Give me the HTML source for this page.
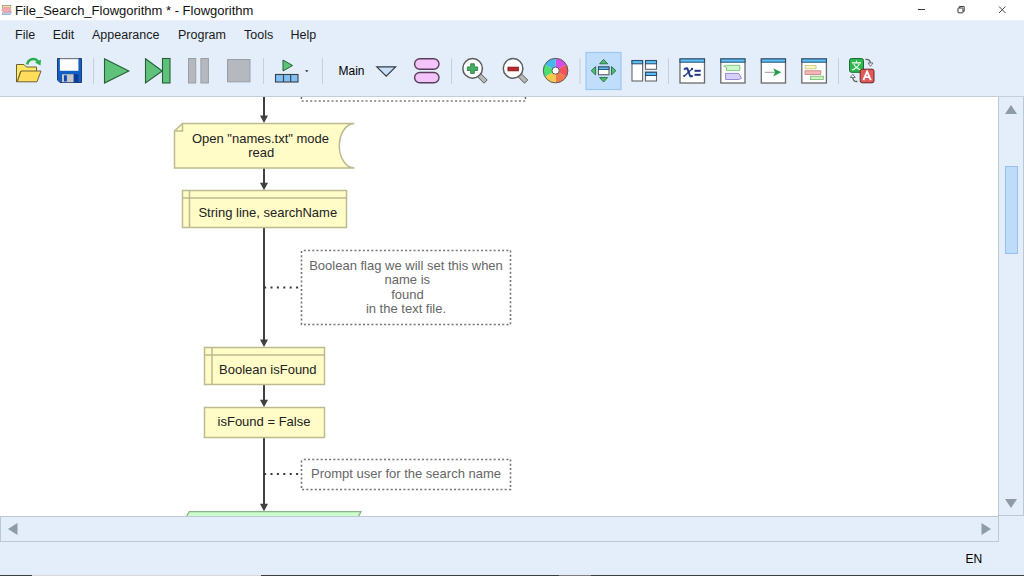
<!DOCTYPE html>
<html><head><meta charset="utf-8">
<style>
html,body{margin:0;padding:0;width:1024px;height:576px;overflow:hidden;background:#e3eefa;}
svg{display:block;position:absolute;left:0;top:0;}
text{font-family:"Liberation Sans",sans-serif;}
</style></head>
<body>
<svg width="1024" height="576" viewBox="0 0 1024 576">
<!-- base areas -->
<rect x="0" y="0" width="1024" height="20" fill="#ffffff"/>
<rect x="0" y="20" width="1024" height="556" fill="#e3eefa"/>
<rect x="0" y="20" width="1024" height="1" fill="#eaf2fc"/>
<!-- title icon -->
<rect x="2.3" y="5.4" width="8.5" height="2.8" fill="#f4f0a8" stroke="#8a8a70" stroke-width="0.7"/>
<path d="M3.2 11.6 H11.4 L10.2 14.5 H2 Z" fill="#b8d8f8" stroke="#6a90c0" stroke-width="0.6"/>
<path d="M1.5 10 L4 7.3 H9 L11.2 10 L9 12.6 H4 Z" fill="#f6a8b0" stroke="#d88890" stroke-width="0.5"/>
<text x="15" y="15.4" font-size="13" fill="#111">File_Search_Flowgorithm * - Flowgorithm</text>
<!-- window controls -->
<rect x="918" y="9" width="7" height="1" fill="#3a3a3a"/>
<rect x="958" y="8" width="5" height="4.8" rx="0.5" fill="none" stroke="#333" stroke-width="1"/>
<path d="M959.3 8 V6.5 H964.2 V11.3 H963" fill="none" stroke="#444" stroke-width="1"/>
<path d="M999 6.5 L1005.5 13 M1005.5 6.5 L999 13" stroke="#333" stroke-width="0.9"/>
<!-- menu -->
<g font-size="12.5" fill="#1a1a1a">
<text x="15" y="39.1">File</text>
<text x="52.7" y="39.1">Edit</text>
<text x="92" y="39.1">Appearance</text>
<text x="178" y="39.1">Program</text>
<text x="244" y="39.1">Tools</text>
<text x="290.5" y="39.1">Help</text>
</g>
<!-- toolbar -->
<g id="toolbar">
<!-- separators -->
<g fill="#c6cfda">
<rect x="93" y="58" width="1" height="26"/>
<rect x="263" y="58" width="1" height="26"/>
<rect x="322" y="58" width="1" height="26"/>
<rect x="451" y="58" width="1" height="26"/>
<rect x="579.5" y="58" width="1" height="26"/>
<rect x="668" y="58" width="1" height="26"/>
<rect x="838" y="58" width="1" height="26"/>
</g>
<!-- open folder -->
<path d="M16.5 82 V64.5 H24 L26.3 67 H36.5 V71.5 H20.5 L17.5 81.5 Z" fill="#ffe866" stroke="#6e6230" stroke-width="1"/>
<path d="M17.3 81.8 L21 71 H41 L37 81.8 Z" fill="#ffdc5c" stroke="#6e6230" stroke-width="1"/>
<path d="M27.2 64.5 C28 59 35 57 38 61.5" fill="none" stroke="#2fae4e" stroke-width="2.6"/>
<path d="M35 62.5 L41 59.5 L40.5 65.5 Z" fill="#2fae4e"/>
<!-- save -->
<path d="M57.5 58.5 H81.5 V82.5 H60 L57.5 80 Z" fill="#1160c4" stroke="#1f3a70" stroke-width="1"/>
<rect x="59.9" y="58.6" width="18.5" height="12.2" fill="#ffffff"/>
<rect x="59.9" y="58.3" width="18.5" height="0.9" fill="#777"/>
<rect x="62" y="74.2" width="16.4" height="8" fill="#0a3c9a"/>
<rect x="62" y="74.2" width="11.6" height="8" fill="#c8c8c8"/>
<rect x="64" y="75.3" width="2.9" height="6.2" fill="#0e48b8"/>
<!-- play -->
<path d="M104.5 58.8 L128.8 71 L104.5 83 Z" fill="#60c27a" stroke="#26603a" stroke-width="1.1" stroke-linejoin="miter"/>
<!-- step -->
<path d="M145.5 58.8 L162.3 71 L145.5 83 Z" fill="#60c27a" stroke="#26603a" stroke-width="1.1"/>
<rect x="162.5" y="58.5" width="7.5" height="24.5" fill="#60c27a" stroke="#26603a" stroke-width="1.1"/>
<!-- pause -->
<rect x="188.5" y="58.5" width="7.2" height="24.5" fill="#b5b9bf" stroke="#9a9ea4" stroke-width="1"/>
<rect x="200.9" y="58.5" width="7.5" height="24.5" fill="#b5b9bf" stroke="#9a9ea4" stroke-width="1"/>
<!-- stop -->
<rect x="227.5" y="59.5" width="22.5" height="22.3" fill="#b5b9bf" stroke="#9a9ea4" stroke-width="1"/>
<!-- run-to -->
<path d="M283 60 L292.6 65.5 L283 71 Z" fill="#5ec27a" stroke="#26603a" stroke-width="1"/>
<rect x="275.5" y="74.5" width="22.5" height="7.5" fill="#80c0f8" stroke="#3c3f44" stroke-width="1.1"/>
<path d="M283.5 74.5 V82 M290.7 74.5 V82" stroke="#3c3f44" stroke-width="1.1"/>
<path d="M305 70.3 H308.5 L306.75 72.3 Z" fill="#333"/>
<!-- Main -->
<text x="338.5" y="74.6" font-size="12" fill="#000">Main</text>
<path d="M376.8 66.8 H395.6 L386.2 76.2 Z" fill="#c4e0fa" stroke="#363a40" stroke-width="1.2" stroke-linejoin="miter"/>
<!-- pills -->
<rect x="414.6" y="58.8" width="24.4" height="10.5" rx="5.25" fill="#f2c4fa" stroke="#5a3d5a" stroke-width="1.4"/>
<rect x="414.6" y="72.5" width="24.4" height="10.2" rx="5.1" fill="#f2c4fa" stroke="#5a3d5a" stroke-width="1.4"/>
<!-- zoom in -->
<path d="M477.3 76.5 L480.5 73.3 L487.2 80 L484 83.2 Z" fill="#b8b8b8" stroke="#5c5c5c" stroke-width="1"/>
<circle cx="472.6" cy="68.4" r="9.8" fill="#ffffff" stroke="#5c5c5c" stroke-width="1.5"/>
<path d="M470.7 63.8 H474.3 V66.9 H477.6 V70.5 H474.3 V73.4 H470.7 V70.5 H467.4 V66.9 H470.7 Z" fill="#43b05f" stroke="#2c7d45" stroke-width="0.9"/>
<!-- zoom out -->
<path d="M517.8 76.5 L521 73.3 L527.7 80 L524.5 83.2 Z" fill="#b8b8b8" stroke="#5c5c5c" stroke-width="1"/>
<circle cx="513.1" cy="68.4" r="9.8" fill="#ffffff" stroke="#5c5c5c" stroke-width="1.5"/>
<rect x="508" y="67.2" width="10.3" height="3.6" fill="#c0262a" stroke="#7a1518" stroke-width="0.9"/>
<!-- color wheel -->
<g transform="translate(555.6,70.6)">
<path d="M0 0 L0 -12.3 A12.3 12.3 0 0 1 10.65 -6.15 Z" fill="#d24de8"/>
<path d="M0 0 L10.65 -6.15 A12.3 12.3 0 0 1 10.65 6.15 Z" fill="#f0535f"/>
<path d="M0 0 L10.65 6.15 A12.3 12.3 0 0 1 0 12.3 Z" fill="#f27a48"/>
<path d="M0 0 L0 12.3 A12.3 12.3 0 0 1 -10.65 6.15 Z" fill="#f5c94c"/>
<path d="M0 0 L-10.65 6.15 A12.3 12.3 0 0 1 -10.65 -6.15 Z" fill="#4cdf70"/>
<path d="M0 0 L-10.65 -6.15 A12.3 12.3 0 0 1 0 -12.3 Z" fill="#47b6ea"/>
<circle cx="0" cy="0" r="12.3" fill="none" stroke="#5a5a5a" stroke-width="1"/>
<circle cx="0" cy="0" r="3.6" fill="#ffffff" stroke="#5a5a5a" stroke-width="1"/>
</g>
<!-- highlighted move button -->
<rect x="586" y="52.5" width="35" height="37" fill="#c0defb" stroke="#9cc8f2" stroke-width="1.2"/>
<g fill="#4cc070" stroke="#2a6a3e" stroke-width="0.9">
<path d="M599.6 63.8 L603.6 59.4 L607.6 63.8 Z"/>
<path d="M599.6 77.6 L603.6 82 L607.6 77.6 Z"/>
<path d="M595.6 66.5 L591.2 70.7 L595.6 74.9 Z"/>
<path d="M611.5 66.5 L615.9 70.7 L611.5 74.9 Z"/>
</g>
<rect x="598.5" y="66.9" width="10.5" height="7.8" fill="#ffffff" stroke="#5f5f5f" stroke-width="1.1"/>
<rect x="598.5" y="67" width="10.5" height="2.5" fill="#5bc0fa" stroke="#2c4a64" stroke-width="0.9"/>
<!-- layout -->
<rect x="632" y="60.5" width="10.6" height="20.5" fill="#ffffff" stroke="#666" stroke-width="1.1"/>
<rect x="632" y="60.6" width="10.6" height="3.2" fill="#5bc0fa" stroke="#2c4a64" stroke-width="1"/>
<rect x="645.5" y="60.5" width="11" height="8.8" fill="#ffffff" stroke="#666" stroke-width="1.1"/>
<rect x="645.5" y="60.6" width="11" height="3.2" fill="#5bc0fa" stroke="#2c4a64" stroke-width="1"/>
<rect x="645.5" y="72.2" width="11" height="8.8" fill="#ffffff" stroke="#666" stroke-width="1.1"/>
<rect x="645.5" y="72.3" width="11" height="3.2" fill="#5bc0fa" stroke="#2c4a64" stroke-width="1"/>
<!-- window icons -->
<g>
<rect x="680" y="59" width="24.5" height="24" fill="#ffffff" stroke="#6a6a6a" stroke-width="1.3"/>
<rect x="680.0" y="58.9" width="24.5" height="3.3" fill="#5bc0fa" stroke="#2c4a64" stroke-width="1"/>
<path d="M684.2 69.8 Q685.2 68 687.3 68.4 L690.1 76 Q691.3 77 692.7 75.3" stroke="#1f3a8a" stroke-width="2" fill="none"/>
<path d="M692.3 68.7 L684.1 76.2" stroke="#1f3a8a" stroke-width="1.2"/>
<circle cx="692.1" cy="68.9" r="1.1" fill="#1f3a8a"/><circle cx="684.2" cy="76" r="1.1" fill="#1f3a8a"/>
<rect x="694.5" y="69.8" width="6.2" height="2" fill="#1f3a8a"/>
<rect x="694.5" y="73.8" width="6.2" height="2" fill="#1f3a8a"/>
</g>
<g>
<rect x="720.8" y="59" width="24.2" height="24" fill="#ffffff" stroke="#6a6a6a" stroke-width="1.3"/>
<rect x="720.8" y="58.9" width="24.2" height="3.3" fill="#5bc0fa" stroke="#2c4a64" stroke-width="1"/>
<path d="M723.6 66.2 L726.4 65.3 H739.8 V70.6 H726.6 V67.6 Z" fill="#ccf8cc" stroke="#7cbc7c" stroke-width="0.9" stroke-linejoin="round"/>
<path d="M725.6 73.4 H738.8 L741.6 78.3 L738.8 79.5 H725.6 Z" fill="#d6d0fa" stroke="#8a80cc" stroke-width="0.9" stroke-linejoin="round"/>
</g>
<g>
<rect x="761.3" y="59" width="24.2" height="24" fill="#ffffff" stroke="#6a6a6a" stroke-width="1.3"/>
<rect x="761.3" y="58.9" width="24.2" height="3.3" fill="#5bc0fa" stroke="#2c4a64" stroke-width="1"/>
<rect x="764.8" y="71.8" width="10" height="1.1" fill="#a8a8a8"/>
<path d="M773.2 68.2 L781.3 72.3 L773.2 76.4 L775 72.3 Z" fill="#22a04a"/>
</g>
<g>
<rect x="801.8" y="59" width="24.6" height="24" fill="#ffffff" stroke="#6a6a6a" stroke-width="1.3"/>
<rect x="801.8" y="58.9" width="24.6" height="3.3" fill="#5bc0fa" stroke="#2c4a64" stroke-width="1"/>
<rect x="805.2" y="65.5" width="10.8" height="3.3" fill="#fafac0" stroke="#c8c480" stroke-width="0.8"/>
<rect x="805" y="70.8" width="15.8" height="3.6" fill="#f5b8b8" stroke="#c87878" stroke-width="0.8"/>
<rect x="810.5" y="76.2" width="12.8" height="3.4" fill="#c8f5c0" stroke="#78b870" stroke-width="0.8"/>
</g>
<!-- translate -->
<path d="M865.5 59.5 C868.5 59 870 60.5 870.5 63" fill="none" stroke="#666" stroke-width="1.4"/>
<path d="M868 63 H873 L870.5 66.3 Z" fill="#fff" stroke="#666" stroke-width="0.9"/>
<path d="M857.5 81.5 C854.5 81.8 853 80.5 852.8 77.5" fill="none" stroke="#666" stroke-width="1.4"/>
<path d="M850.3 77.5 H855.3 L852.8 74.3 Z" fill="#fff" stroke="#666" stroke-width="0.9"/>
<rect x="849.5" y="58.5" width="14" height="13.8" rx="2" fill="#2db84e" stroke="#1c6a30" stroke-width="1"/>
<g stroke="#ffffff" stroke-width="1.1" fill="none">
<path d="M856.5 60.6 V62.4 M852 62.9 H861 M853.8 64 Q856 68.3 861 70 M859.3 64 Q857 68.3 852 70"/>
</g>
<rect x="860.2" y="69.2" width="13.8" height="13.6" rx="2" fill="#e05a5a" stroke="#6a2222" stroke-width="1"/>
<path d="M863.4 80.2 L867.1 71.6 L870.8 80.2 M864.6 77.2 H869.6" fill="none" stroke="#ffffff" stroke-width="1.8"/>
</g>
<!-- toolbar bottom border -->
<rect x="0" y="96" width="1024" height="1" fill="#c3cfdc"/>

<!-- canvas -->
<rect x="0" y="97" width="998" height="419" fill="#ffffff"/>
<g id="diagram">
<!-- top comment remnant -->
<rect x="300.7" y="97" width="1.5" height="2" fill="#6a6a6a"/>
<rect x="524.7" y="97" width="1.5" height="2" fill="#6a6a6a"/>
<path d="M301.7 101 H526" stroke="#9c9c9c" stroke-width="1.8" stroke-dasharray="2 2.26"/>
<!-- flow lines -->
<g stroke="#404040" stroke-width="2" fill="none">
<path d="M264 97 V117"/>
<path d="M264 168 V184"/>
<path d="M264 228 V341"/>
<path d="M264 385 V401"/>
<path d="M264 437 V505"/>
</g>
<g fill="#404040">
<path d="M260 115.5 H268 L264 123 Z"/>
<path d="M260 182.7 H268 L264 190.2 Z"/>
<path d="M260 339.5 H268 L264 347 Z"/>
<path d="M260 399.7 H268 L264 407.2 Z"/>
<path d="M260 503.8 H268 L264 511.3 Z"/>
</g>
<!-- open shape -->
<path d="M174.5 131 L182.5 123.5 H354.5 A15.2 22.25 0 0 0 354.5 168 H174.5 Z" fill="#fffcc8" stroke="#bcba8e" stroke-width="1.5"/>
<path d="M182.5 123.5 V131 H174.5" fill="none" stroke="#bcba8e" stroke-width="1.5"/>
<g font-size="13" fill="#222" text-anchor="middle">
<text x="260.5" y="142.6">Open "names.txt" mode</text>
<text x="261.3" y="156.5">read</text>
</g>
<!-- declare String -->
<rect x="182.5" y="190.5" width="164" height="37" fill="#fffcc8" stroke="#bcba8e" stroke-width="1.5"/>
<path d="M182.5 198 H346.5 M189.5 190.5 V227.5" stroke="#bcba8e" stroke-width="1.5"/>
<text x="267.8" y="217.1" font-size="13" fill="#222" text-anchor="middle">String line, searchName</text>
<!-- comment 1 -->
<rect x="301.5" y="250.5" width="209" height="74" fill="none" stroke="#747474" stroke-width="1.6" stroke-dasharray="2 2.22" stroke-dashoffset="-2.3"/>
<path d="M264.1 287.4 H300" stroke="#383838" stroke-width="2" stroke-dasharray="2 4.4"/>
<g font-size="13" fill="#666" text-anchor="middle">
<text x="406" y="269.9">Boolean flag we will set this when</text>
<text x="407.3" y="284.3">name is</text>
<text x="407.5" y="298.6">found</text>
<text x="406" y="313.1">in the text file.</text>
</g>
<!-- declare Boolean -->
<rect x="204.5" y="347.5" width="120" height="37" fill="#fffcc8" stroke="#bcba8e" stroke-width="1.5"/>
<path d="M204.5 355 H324.5 M212 347.5 V384.5" stroke="#bcba8e" stroke-width="1.5"/>
<text x="267.8" y="373.8" font-size="13" fill="#222" text-anchor="middle">Boolean isFound</text>
<!-- assign -->
<rect x="204.5" y="407.5" width="120" height="30" fill="#fffcc8" stroke="#bcba8e" stroke-width="1.5"/>
<text x="264" y="425.8" font-size="13" fill="#222" text-anchor="middle">isFound = False</text>
<!-- comment 2 -->
<rect x="301.5" y="459.5" width="209" height="30" fill="none" stroke="#747474" stroke-width="1.6" stroke-dasharray="2 2.22" stroke-dashoffset="-2.3"/>
<path d="M264.1 474 H300" stroke="#383838" stroke-width="2" stroke-dasharray="2 4.4"/>
<text x="406" y="477.9" font-size="13" fill="#666" text-anchor="middle">Prompt user for the search name</text>
<!-- green input -->
<path d="M185.8 518 L189.2 511.6 H361 L357.6 518 Z" fill="#ccffcc" stroke="#8ab48a" stroke-width="1.3"/>
</g>

<!-- scrollbars -->
<rect x="998" y="97" width="26" height="419" fill="#e3eefa"/>
<rect x="998" y="97" width="1" height="419" fill="#bcc8d4"/>
<rect x="1023" y="97" width="1" height="419" fill="#bcc8d4"/>
<rect x="998" y="515" width="26" height="1" fill="#bcc8d4"/>
<path d="M1005 114 L1011 105 L1017 114 Z" fill="#8e9ba8"/>
<path d="M1005 499 L1017 499 L1011 508 Z" fill="#8e9ba8"/>
<rect x="1005.5" y="166.5" width="12" height="87" fill="#bddcfa" stroke="#94c0ec" stroke-width="1"/>

<rect x="0" y="516" width="999" height="26" fill="#e3eefa"/>
<rect x="0" y="516" width="999" height="1" fill="#bcc8d4"/>
<rect x="0" y="541" width="999" height="1" fill="#bcc8d4"/>
<rect x="0" y="516" width="1" height="26" fill="#bcc8d4"/>
<rect x="998" y="516" width="1" height="26" fill="#bcc8d4"/>
<path d="M8 529 L17.5 523 L17.5 535 Z" fill="#8e9ba8"/>
<path d="M981.5 523 L991 529 L981.5 535 Z" fill="#8e9ba8"/>

<!-- status -->
<text x="965.5" y="562.5" font-size="12" fill="#000">EN</text>
<!-- taskbar strip -->
<rect x="0" y="575" width="1024" height="1" fill="#3a3d42"/>
<rect x="32" y="575" width="229" height="1" fill="#d8d8d8"/>
<rect x="559" y="575" width="32" height="1" fill="#7a7c80"/>

</svg>
</body></html>
